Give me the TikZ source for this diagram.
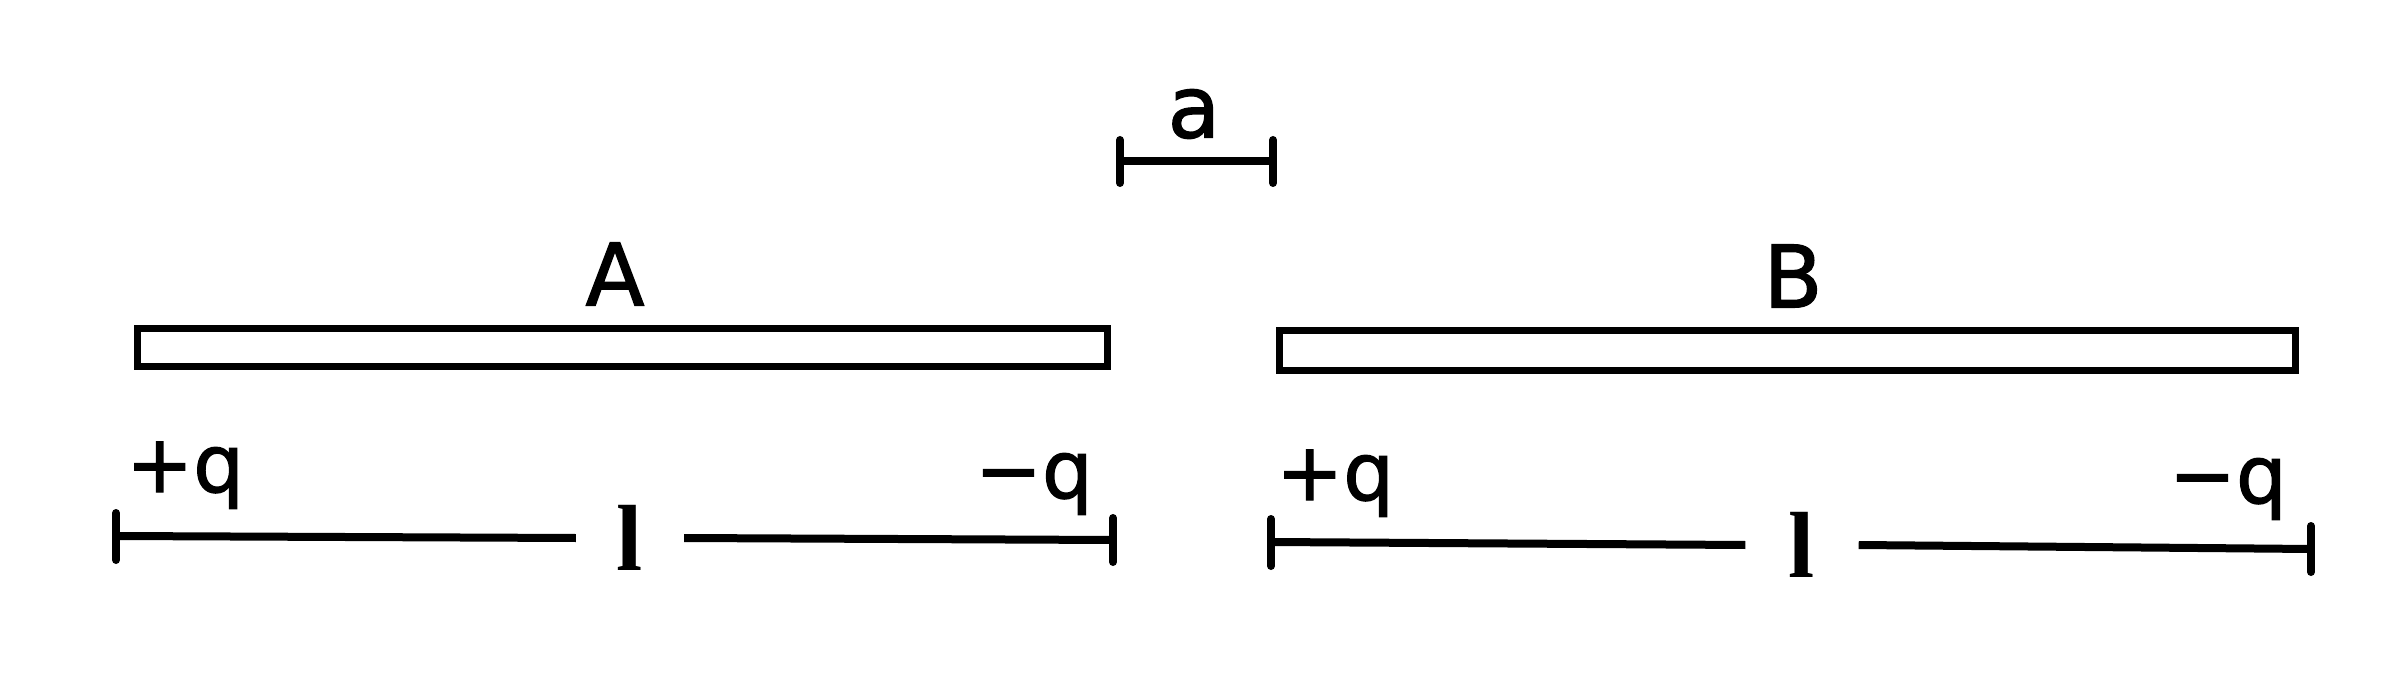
\documentclass[tikz,border=0pt]{standalone}
\usepackage{fontspec}
\newfontfamily\labfont[FakeBold=1.6]{DejaVu Sans}
\newfontfamily\lserif{Liberation Serif}
\begin{document}
\begin{tikzpicture}[x=1pt,y=-1pt,
  rod/.style={draw, line width=7pt, inner sep=0pt, rectangle},
  dim/.style={line width=8pt},
  tick/.style={line width=8pt, line cap=round},
  lab/.style={inner sep=0pt, font=\labfont\fontsize{86}{90}\selectfont},
  qlab/.style={inner sep=0pt, font=\labfont\fontsize{80}{90}\selectfont},
  lgap/.style={inner sep=0pt, font=\lserif\bfseries\fontsize{94}{100}\selectfont, minimum width=108pt}]
\useasboundingbox (0,0) rectangle (2397,684);
% rods
\node[rod, minimum width=970pt, minimum height=38pt] (rodA) at (622.5,347.5) {};
\node[rod, minimum width=1016pt, minimum height=40pt] (rodB) at (1787.5,350.5) {};
\node[lab] (labA) at (615,274) {A};
\node[lab] (labB) at (1793,276) {B};
% distance a
\coordinate (aL) at (1120,161);
\coordinate (aR) at (1273,161);
\node[lab] (laba) at (1194,114) {a};
\draw[dim] (aL) -- (aR);
\draw[tick] ([yshift=21pt]aL) -- ([yshift=-22pt]aL);
\draw[tick] ([yshift=21pt]aR) -- ([yshift=-22pt]aR);
% charges
\node[qlab, anchor=base west] (pqA) at (126,492) {+q};
\node[qlab, anchor=base east] (mqA) at (1093,498) {−q};
\node[qlab, anchor=base west] (pqB) at (1276,500) {+q};
\node[qlab, anchor=base east] (mqB) at (2287,503) {−q};
% length l, rod A
\coordinate (dAL) at (116,536);
\coordinate (dAR) at (1113,540);
\node[lgap] (lA) at (630,538) {l};
\draw[dim] (dAL) -- (lA.west);
\draw[dim] (lA.east) -- (dAR);
\draw[tick] ([yshift=23pt]dAL) -- ([yshift=-24pt]dAL);
\draw[tick] ([yshift=22pt]dAR) -- ([yshift=-22pt]dAR);
% length l, rod B
\coordinate (dBL) at (1271,542);
\coordinate (dBR) at (2311,549);
\node[lgap, minimum width=113pt] (lB) at (1802,545) {l};
\draw[dim] (dBL) -- (lB.west);
\draw[dim] (lB.east) -- (dBR);
\draw[tick] ([yshift=23pt]dBL) -- ([yshift=-24pt]dBL);
\draw[tick] ([yshift=23pt]dBR) -- ([yshift=-23pt]dBR);
\end{tikzpicture}
\end{document}
